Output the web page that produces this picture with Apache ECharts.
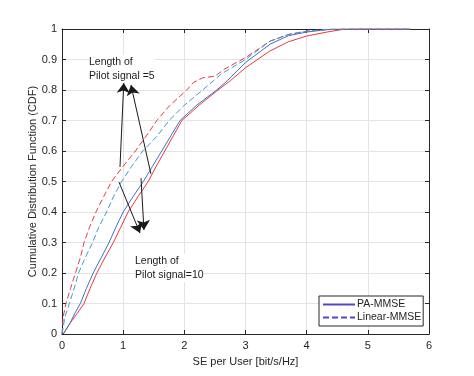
<!DOCTYPE html>
<html>
<head>
<meta charset="utf-8">
<script src="https://cdn.jsdelivr.net/npm/echarts@6/dist/echarts.min.js"></script>
<style>
  html, body { margin: 0; padding: 0; background: #fff; }
  #chart { width: 474px; height: 376px; }
</style>
</head>
<body>
<div id="chart"></div>
<script>
// [SE, CDF] pairs
var paMmse5 = [[0.02,0],[0.13,0.035],[0.25,0.068],[0.36,0.1],[0.46,0.15],[0.57,0.2],[0.7,0.25],[0.84,0.3],[0.96,0.35],[1.08,0.4],[1.24,0.45],[1.41,0.5],[1.54,0.55],[1.68,0.6],[1.82,0.65],[1.96,0.7],[2.24,0.75],[2.55,0.8],[2.75,0.83],[3.0,0.873],[3.4,0.928],[3.7,0.958],[4.0,0.977],[4.33,0.99],[4.6,0.999],[4.9,1],[5.7,1]];
var paMmse10 = [[0.02,0],[0.13,0.035],[0.21,0.068],[0.3,0.1],[0.4,0.15],[0.51,0.2],[0.64,0.25],[0.77,0.3],[0.88,0.35],[1.0,0.4],[1.16,0.45],[1.33,0.5],[1.48,0.55],[1.63,0.6],[1.78,0.65],[1.93,0.7],[2.2,0.75],[2.53,0.8],[2.7,0.83],[3.0,0.89],[3.4,0.95],[3.7,0.978],[4.0,0.99],[4.38,0.999],[4.7,1],[5.7,1]];
var linMmse5 = [[0,0],[0.02,0.057],[0.065,0.1],[0.14,0.15],[0.22,0.2],[0.3,0.25],[0.36,0.3],[0.45,0.35],[0.555,0.4],[0.68,0.45],[0.81,0.5],[1.0,0.55],[1.2,0.6],[1.38,0.65],[1.55,0.7],[1.765,0.75],[2.04,0.8],[2.15,0.825],[2.3,0.84],[2.5,0.845],[2.65,0.868],[3.0,0.906],[3.4,0.96],[3.7,0.982],[4.0,0.993],[4.38,0.999],[4.7,1],[5.7,1]];
var linMmse10 = [[0,0],[0.05,0.057],[0.12,0.1],[0.2,0.15],[0.27,0.2],[0.38,0.25],[0.5,0.3],[0.6,0.35],[0.73,0.4],[0.84,0.45],[0.975,0.5],[1.14,0.55],[1.32,0.6],[1.56,0.65],[1.75,0.7],[2.0,0.75],[2.3,0.8],[2.6,0.852],[3.0,0.9],[3.4,0.96],[3.7,0.982],[4.0,0.993],[4.38,0.999],[4.7,1],[5.7,1]];

// annotation arrows [from, to] in data coords
var arrows5 = [[[0.948,0.548],[1.01,0.823]], [[1.454,0.525],[1.128,0.816]]];
var arrows10 = [[[0.932,0.498],[1.275,0.331]], [[1.292,0.511],[1.34,0.341]]];

var xTicks = [0, 6, 1];
var yTicks = [0, 1, 0.1];

var red = "#e8393e";
var blueSolid = "#3a74c6";
var blueDash = "#3b9bd6";
var legendBlue = "#4a4ac6";
var axisColor = "#262626";
var font = "Liberation Sans, Arial, sans-serif";

var chart = echarts.init(document.getElementById("chart"), null, { renderer: "canvas" });

function axisBase(show) {
  return {
    type: "value",
    min: 0,
    axisLine: { show: true, onZero: false, lineStyle: { color: axisColor, width: 1 } },
    axisTick: { show: true, inside: true, length: 4, lineStyle: { color: axisColor } },
    axisLabel: { show: show, color: axisColor, fontSize: 11, fontFamily: font },
    splitLine: { show: show, lineStyle: { color: "#e4e4e4", width: 1 } }
  };
}

var xMain = axisBase(true);
xMain.max = xTicks[1]; xMain.interval = xTicks[2];
xMain.axisLabel.margin = 6;
xMain.name = "SE per User [bit/s/Hz]";
xMain.nameLocation = "middle";
xMain.nameGap = 22;
xMain.nameMoveOverlap = false;
xMain.nameTextStyle = { color: axisColor, fontSize: 11, fontFamily: font };

var xTop = axisBase(false);
xTop.max = xTicks[1]; xTop.interval = xTicks[2]; xTop.position = "top";

var yMain = axisBase(true);
yMain.max = yTicks[1]; yMain.interval = yTicks[2];
yMain.axisLabel.margin = 5;
yMain.axisLabel.formatter = function (v) { return +v.toFixed(1) + ""; };
yMain.name = "Cumulative Distribution Function (CDF)";
yMain.nameLocation = "middle";
yMain.nameGap = 24;
yMain.nameMoveOverlap = false;
yMain.nameTextStyle = { color: axisColor, fontSize: 11, fontFamily: font };

var yRight = axisBase(false);
yRight.max = yTicks[1]; yRight.interval = yTicks[2]; yRight.position = "right";

function curve(name, data, color, dashed) {
  return {
    name: name,
    type: "line",
    data: data,
    symbol: "none",
    showSymbol: false,
    smooth: false,
    lineStyle: { color: color, width: 1, type: dashed ? [6, 3] : "solid" },
    itemStyle: { color: color },
    z: 3
  };
}

function arrowSeries(list) {
  return {
    type: "lines",
    coordinateSystem: "cartesian2d",
    symbol: ["none", "arrow"],
    symbolSize: 10,
    lineStyle: { color: "#1a1a1a", width: 1, opacity: 1 },
    data: list.map(function (a) { return { coords: a }; }),
    z: 5
  };
}

var option = {
  backgroundColor: "#fff",
  animation: false,
  grid: { left: 62, right: 45, top: 29, bottom: 42 },
  xAxis: [xMain, xTop],
  yAxis: [yMain, yRight],
  legend: {
    orient: "vertical",
    left: 319,
    top: 296,
    data: ["PA-MMSE", "Linear-MMSE"],
    backgroundColor: "#fff",
    borderColor: axisColor,
    borderWidth: 1,
    borderRadius: 0,
    padding: [3, 2, 3, 3],
    itemWidth: 32,
    itemHeight: 11,
    itemGap: 2,
    itemStyle: { opacity: 0 },
    textStyle: { color: axisColor, fontSize: 10.5, fontFamily: font, padding: [0, 0, 0, -3] }
  },
  graphic: [
    { type: "text", left: 89, top: 55, z: 100, style: { text: "Length of\nPilot signal =5", fill: "#1a1a1a", backgroundColor: "#fff", font: "10.5px " + font, lineHeight: 14 } },
    { type: "text", left: 135, top: 254, z: 100, style: { text: "Length of\nPilot signal=10", fill: "#1a1a1a", backgroundColor: "#fff", font: "10.5px " + font, lineHeight: 14 } }
  ],
  series: [
    curve("PA-MMSE τ=5", paMmse5, red, false),
    curve("PA-MMSE τ=10", paMmse10, blueSolid, false),
    curve("Linear-MMSE τ=5", linMmse5, red, true),
    curve("Linear-MMSE τ=10", linMmse10, blueDash, true),
    curve("PA-MMSE", [], legendBlue, false),
    curve("Linear-MMSE", [], legendBlue, true),
    arrowSeries(arrows5),
    arrowSeries(arrows10)
  ]
};

chart.setOption(option);
</script>
</body>
</html>
